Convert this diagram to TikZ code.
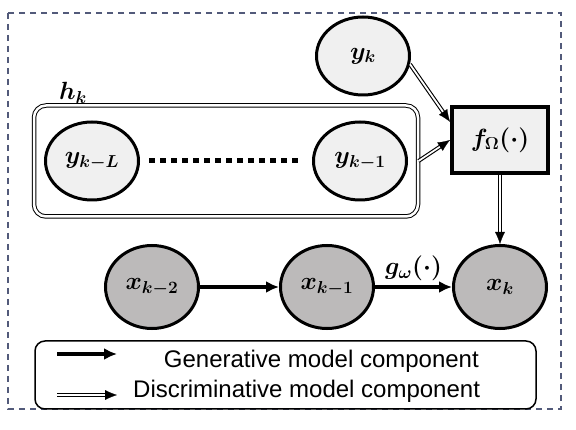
\documentclass[tikz,border=0pt]{standalone}
\usepackage{amsmath}
\usepackage{bm}
\usepackage{fontspec}
\setsansfont{Liberation Sans}
\usetikzlibrary{arrows.meta,fit,shapes.geometric}
\definecolor{ylight}{RGB}{240,240,240}
\definecolor{xgray}{RGB}{188,186,186}
\definecolor{framecol}{RGB}{82,90,122}

\begin{document}
\begin{tikzpicture}[x=1pt,y=-1pt]
\tikzstyle{var}=[draw,ellipse,line width=3pt,minimum width=93pt,minimum height=78pt,inner sep=0pt,font=\fontsize{26}{30}\selectfont]
\tikzstyle{yvar}=[var,fill=ylight]
\tikzstyle{xvar}=[var,fill=xgray,minimum height=83pt]
\tikzstyle{gener}=[line width=3.5pt,-{Latex[length=13pt,width=12pt]}]
\tikzstyle{discr}=[draw=none,
  postaction={draw,double,double distance=1.8pt,line width=1.1pt,shorten >=8pt},
  postaction={draw=white,line width=0.2pt,-{Latex[black,length=12pt,width=10pt]}}]
\tikzstyle{lbl}=[font=\fontsize{26}{30}\selectfont]
\tikzstyle{legtext}=[font=\sffamily\fontsize{24}{28}\selectfont,inner sep=0pt]
\useasboundingbox (0,0) rectangle (576,430);

% outer frame
\draw[framecol,line width=2pt,dash pattern=on 6pt off 5pt] (8,13) rectangle (561,409);

% observations
\node[yvar] (yk) at (363,56) {$\bm{y_k}$};
\node[yvar] (ykL) at (92,161) {$\bm{y_{k-L}}$};
\node[yvar] (yk1) at (360,161) {$\bm{y_{k-1}}$};
\draw[line width=5pt,dash pattern=on 6pt off 5pt,shorten <=9pt,shorten >=12pt] (ykL) -- (yk1);
\node[draw,double,double distance=2.5pt,line width=1pt,rounded corners=12pt,
  inner xsep=10pt,inner ysep=15pt,fit=(ykL)(yk1)] (hk) {};
\node[lbl] (hklab) at (73,93) {$\bm{h_k}$};

% discriminative part
\node[draw,line width=4pt,fill=ylight,minimum width=96pt,minimum height=66pt,lbl] (f) at (500,140) {$\bm{f_{\Omega}(\cdot)}$};

% states
\node[xvar] (xk2) at (152,287) {$\bm{x_{k-2}}$};
\node[xvar] (xk1) at (327,287) {$\bm{x_{k-1}}$};
\node[xvar] (xk) at (500,287) {$\bm{x_k}$};

\draw[gener] (xk2) -- (xk1);
\draw[gener] (xk1) -- node[lbl,above=1pt] {$\bm{g_{\omega}(\cdot)}$} (xk);
\draw[discr] (yk.-10) -- (f.160);
\draw[discr] (hk.east) -- (f.west);
\draw[discr] (f.south) -- (xk.north);

% legend
\node[draw,line width=1.5pt,rounded corners=10pt,minimum width=501pt,minimum height=68pt] (legend) at (285.5,375) {};
\coordinate (ga) at (57,354);
\coordinate (gb) at (117,354);
\coordinate (da) at (57,395);
\coordinate (db) at (117,395);
\draw[gener] (ga) -- (gb);
\draw[discr] (da) -- (db);
\node[legtext,anchor=base east] (gtext) at (479,368) {Generative model component};
\node[legtext,anchor=base west] (dtext) at (133,398) {Discriminative model component};
\end{tikzpicture}
\end{document}
